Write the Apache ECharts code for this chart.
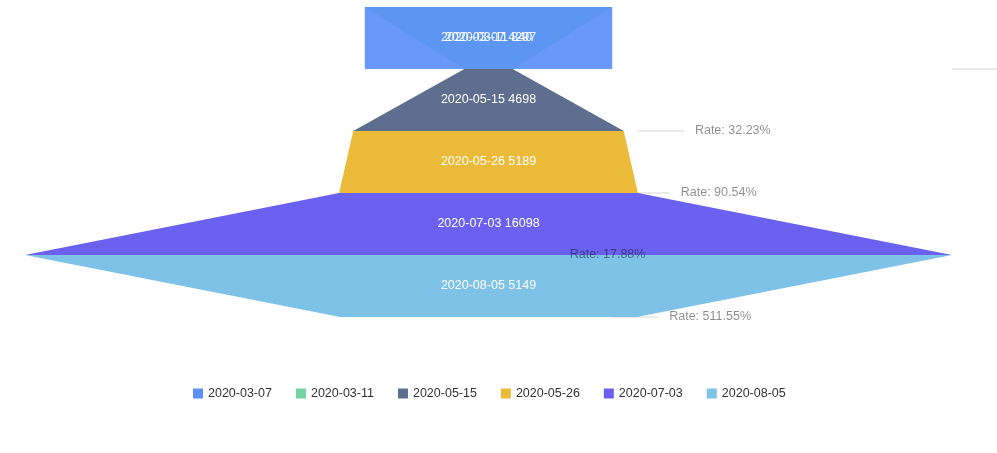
<!DOCTYPE html>
<html lang="en">
  <head>
    <meta charset="utf-8" />
    <meta name="viewport" content="width=device-width, initial-scale=1" />
    <title>Funnel</title>
    <style>
      html, body { margin: 0; background: #fff; }
      #chart-container { width: 997px; height: 453px; }
    </style>
  </head>
  <body>
    <div id="chart-container"></div>
    <script src="https://cdn.jsdelivr.net/npm/echarts@6/dist/echarts.min.js"></script>
    <script>
      // values
      var dates = ["2020-03-07", "2020-03-11", "2020-05-15", "2020-05-26", "2020-07-03", "2020-08-05"];
      var counts = [4297, 840, 4698, 5189, 16098, 5149];
      var colors = ["#5B8FF9", "#72D2A4", "#5D6E8E", "#EBBA39", "#6A61F0", "#7EC2E8"];

      var dom = document.getElementById("chart-container");
      var myChart = echarts.init(dom, null, { renderer: "canvas" });

      var maxCount = Math.max.apply(null, counts);
      var boxLeft = 25, boxWidth = 927, boxTop = 7, rowH = 62;
      var font = "Arial, 'Liberation Sans', sans-serif";
      var fontSize = 12.5;

      // rate = previous count / this count
      function rate(i) {
        if (i === 0) return "";
        return "Rate: " + (counts[i - 1] / counts[i] * 100).toFixed(2) + "%";
      }

      // visible funnel, drawn upward from the bottom row
      var valueData = dates.map(function (d, i) {
        var item = { name: d, value: counts[i] };
        if (i === 0) {
          item.itemStyle = { height: 0 };
          item.label = { show: false };
        }
        return item;
      });

      // transparent funnel carrying the rate labels
      var rateData = dates.map(function (d, i) {
        var item = { name: d, value: counts[i] };
        if (i === 0) {
          item.label = { show: false };
          item.labelLine = { show: false };
        }
        return item;
      });

      var firstW = boxWidth * counts[0] / maxCount;

      var option = {
        color: colors,
        animation: false,
        legend: {
          data: dates,
          left: 188,
          top: 382,
          icon: "rect",
          itemWidth: 10,
          itemHeight: 10,
          itemGap: 24,
          textStyle: { color: "#333", fontSize: fontSize, fontFamily: font }
        },
        series: [
          {
            name: "count",
            type: "funnel",
            sort: function (a, b) { return b - a; },
            left: boxLeft,
            width: boxWidth,
            top: boxTop + rowH * (dates.length - 1),
            height: rowH * dates.length,
            min: 0,
            max: maxCount,
            gap: 0,
            itemStyle: { borderWidth: 0, height: -rowH },
            label: {
              position: "inside",
              formatter: "{b} {c}",
              color: "#fff",
              fontSize: fontSize,
              fontFamily: font
            },
            emphasis: { disabled: true },
            data: valueData
          },
          {
            name: "first",
            type: "funnel",
            sort: "none",
            left: boxLeft + (boxWidth - firstW) / 2,
            width: firstW,
            top: boxTop,
            height: rowH,
            min: 0,
            max: counts[0],
            minSize: "100%",
            maxSize: "100%",
            itemStyle: { borderWidth: 0, opacity: 0.92 },
            label: {
              position: "inside",
              formatter: "{b} {c}",
              color: "#fff",
              fontSize: fontSize,
              fontFamily: font
            },
            emphasis: { disabled: true },
            data: [{ name: dates[0], value: counts[0] }]
          },
          {
            name: "rate",
            type: "funnel",
            sort: function (a, b) { return b - a; },
            left: boxLeft,
            width: boxWidth,
            top: boxTop,
            height: rowH * dates.length,
            min: 0,
            max: maxCount,
            gap: 0,
            itemStyle: { borderWidth: 0, color: "rgba(0,0,0,0)" },
            label: {
              position: "rightBottom",
              formatter: function (p) { return rate(p.dataIndex); },
              color: "rgba(0,0,0,0.45)",
              fontSize: fontSize,
              fontFamily: font,
              padding: [0, 0, 0, 6]
            },
            labelLine: {
              show: true,
              length: 46,
              lineStyle: { color: "rgba(0,0,0,0.17)", width: 1.2 }
            },
            emphasis: { disabled: true },
            data: rateData
          }
        ]
      };

      myChart.setOption(option);
      window.addEventListener("resize", myChart.resize);
    </script>
  </body>
</html>
